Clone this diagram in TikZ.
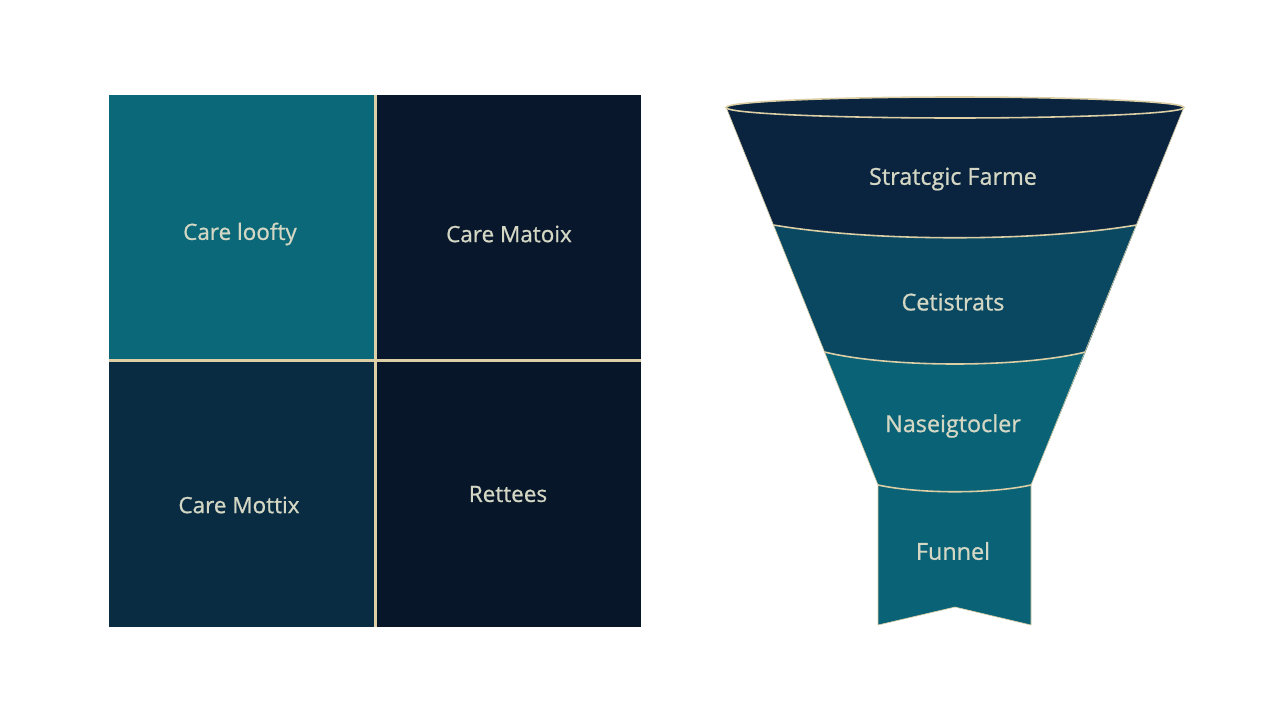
\documentclass[tikz,border=0pt]{standalone}
\usepackage{fontspec}
\setmainfont{Open Sans}[FakeBold=0.8]
\usetikzlibrary{positioning}
\definecolor{cream}{HTML}{DCCFA6}
\definecolor{label}{HTML}{D3D7C4}
\definecolor{cellA}{HTML}{0A6878}
\definecolor{cellB}{HTML}{08172B}
\definecolor{cellC}{HTML}{0A2C42}
\definecolor{cellD}{HTML}{08162A}
\definecolor{bandA}{HTML}{0A233E}
\definecolor{bandB}{HTML}{0A4862}
\definecolor{bandC}{HTML}{0A6276}
\tikzset{%
	txt/.style     = {text = label, font = \fontsize{12.8}{15}\selectfont},
	ftxt/.style    = {txt, font = \fontsize{13.3}{16}\selectfont},
	divider/.style = {draw = cream, line width = 1.7pt},
	rim/.style     = {draw = cream, line width = 0.9pt},
	edge/.style    = {draw = cream, line width = 0.35pt}
}
\begin{document}
\begin{tikzpicture}[x=0.02cm, y=-0.02cm]
	\useasboundingbox (0,0) rectangle (1280,720);

	% matrix
	\fill[cellA] (109,95) rectangle (375.5,360.5);
	\fill[cellB] (375.5,95) rectangle (641,360.5);
	\fill[cellC] (109,360.5) rectangle (375.5,627);
	\fill[cellD] (375.5,360.5) rectangle (641,627);
	\draw[divider] (375.5,95) -- (375.5,627);
	\draw[divider] (109,360.5) -- (641,360.5);

	\node[txt] (loofty) at (240,234) {Care loofty};
	\node[txt] (matoix) at (509,234) {Care Matoix};
	\node[txt] (mottix) at (239,505) {Care Mottix};
	\node[txt] (rettees) at (508,494) {Rettees};

	% funnel
	\fill[bandA] (726,107) -- (773.4,225) .. controls (874,242) and (1036,242) .. (1136.6,225) -- (1184,107) -- cycle;
	\fill[bandB] (773.4,225) .. controls (874,242) and (1036,242) .. (1136.6,225) -- (1085.5,352) .. controls (1020,368) and (890,368) .. (824.5,352) -- cycle;
	\fill[bandC] (824.5,352) .. controls (890,368) and (1020,368) .. (1085.5,352) -- (1031,485) .. controls (990,494) and (920,494) .. (878,485) -- cycle;
	\fill[bandC] (878,485) .. controls (920,494) and (990,494) .. (1031,485) -- (1031,625) -- (955,607) -- (878,625) -- cycle;

	\draw[edge] (726,107) -- (878,485) -- (878,625) -- (955,607) -- (1031,625) -- (1031,485) -- (1184,107);
	\draw[rim] (773.4,225) .. controls (874,242) and (1036,242) .. (1136.6,225);
	\draw[rim] (824.5,352) .. controls (890,368) and (1020,368) .. (1085.5,352);
	\draw[rim] (878,485) .. controls (920,494) and (990,494) .. (1031,485);
	\draw[rim, fill=bandA] (955,107.5) ellipse [x radius=229, y radius=10.5];

	\node[ftxt] (farme) at (953,179) {Stratcgic Farme};
	\node[ftxt] (cetis) at (953,302) {Cetistrats};
	\node[ftxt] (naseig) at (953,426) {Naseigtocler};
	\node[ftxt] (funnel) at (953,551) {Funnel};
\end{tikzpicture}
\end{document}
